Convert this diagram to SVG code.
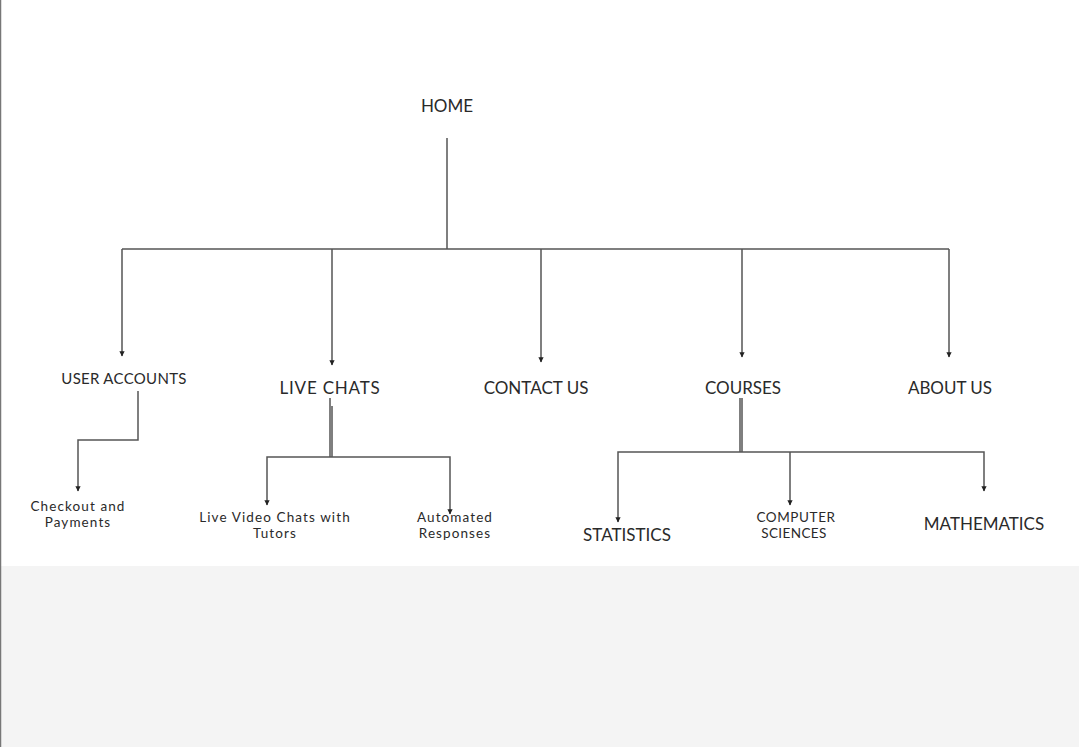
<svg xmlns="http://www.w3.org/2000/svg" width="1079" height="747" viewBox="0 0 1079 747">
<style>
.t{font-family:"Lato","Liberation Sans",sans-serif;fill:#2a2a2a;text-anchor:middle}
.b{font-size:17px}
.s{font-size:13.5px;letter-spacing:1.1px}
.c{fill:none;stroke:#555;stroke-width:1.5}
</style>
<defs>
<marker id="a" viewBox="0 0 10 10" refX="9" refY="5" markerWidth="3.5" markerHeight="3.5" orient="auto" markerUnits="strokeWidth">
<path d="M0,0 L10,5 L0,10 z" fill="#222"/>
</marker>
</defs>
<rect width="1079" height="747" fill="#fff"/>
<rect y="566" width="1079" height="181" fill="#f4f4f4"/>
<line x1="0.5" y1="0" x2="0.5" y2="747" stroke="#777" stroke-width="1.5"/>
<g id="connectors">
<path class="c" d="M447,138 V249"/>
<path class="c" d="M122,249 H949"/>
<path class="c" d="M122,249 V356" marker-end="url(#a)"/>
<path class="c" d="M332,249 V365" marker-end="url(#a)"/>
<path class="c" d="M541,249 V362" marker-end="url(#a)"/>
<path class="c" d="M742,249 V357" marker-end="url(#a)"/>
<path class="c" d="M949,249 V357" marker-end="url(#a)"/>
<path class="c" d="M138,391 V440 H78 V491" marker-end="url(#a)"/>
<path class="c" d="M330,398 V457"/>
<path class="c" d="M332,406 V457"/>
<path class="c" d="M332,457 H267 V505" marker-end="url(#a)"/>
<path class="c" d="M332,457 H450 V514" marker-end="url(#a)"/>
<path class="c" d="M740,398 V452"/>
<path class="c" d="M742,398 V452"/>
<path class="c" d="M742,452 H618 V522" marker-end="url(#a)"/>
<path class="c" d="M742,452 H984 V491" marker-end="url(#a)"/>
<path class="c" d="M790,452 V505" marker-end="url(#a)"/>
</g>
<g id="home"><text class="t b" x="447" y="112">HOME</text></g>
<g id="user-accounts"><text class="t b" x="124" y="384" style="font-size:15px;letter-spacing:0.3px">USER ACCOUNTS</text></g>
<g id="live-chats"><text class="t b" x="330" y="394" style="letter-spacing:0.8px">LIVE CHATS</text></g>
<g id="contact-us"><text class="t b" x="536" y="394">CONTACT US</text></g>
<g id="courses"><text class="t b" x="743" y="394">COURSES</text></g>
<g id="about-us"><text class="t b" x="950" y="394">ABOUT US</text></g>
<g id="checkout"><text class="t s" x="78" y="511">Checkout and</text><text class="t s" x="78" y="527">Payments</text></g>
<g id="live-video"><text class="t s" x="275" y="522">Live Video Chats with</text><text class="t s" x="275" y="538">Tutors</text></g>
<g id="automated"><text class="t s" x="455" y="522">Automated</text><text class="t s" x="455" y="538">Responses</text></g>
<g id="statistics"><text class="t b" x="627" y="541">STATISTICS</text></g>
<g id="computer-sciences"><text class="t s" x="796" y="522" style="letter-spacing:0.6px">COMPUTER</text><text class="t s" x="794" y="538" style="letter-spacing:0.4px">SCIENCES</text></g>
<g id="mathematics"><text class="t b" x="984" y="530">MATHEMATICS</text></g>
</svg>
